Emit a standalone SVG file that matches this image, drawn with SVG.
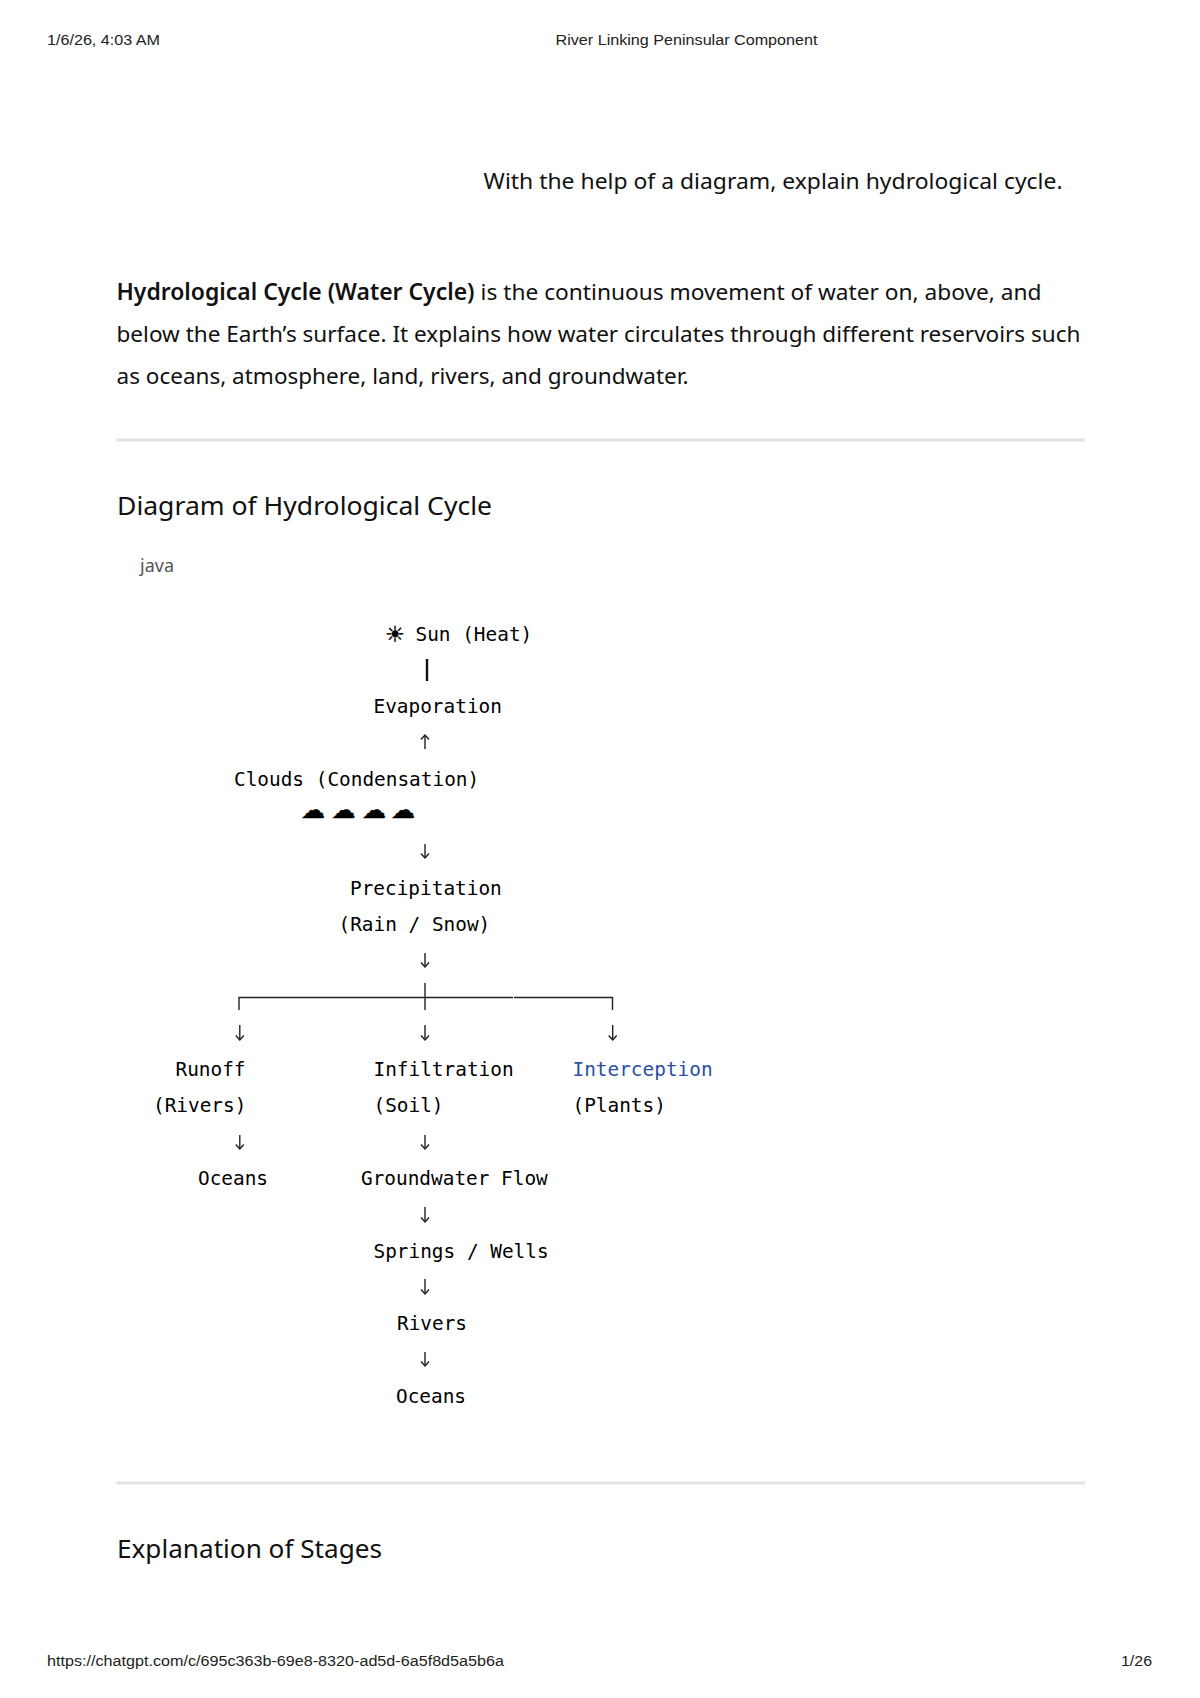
<svg xmlns="http://www.w3.org/2000/svg" width="1200" height="1698" viewBox="0 0 1200 1698">
<style>
text{white-space:pre}
.h{font:15.4px "Liberation Sans",Arial,sans-serif;fill:#222}
.p{font:22.5px "Noto Sans","Open Sans",sans-serif;fill:#111}
.b{font-weight:600}
.t{font:25px "Noto Sans","Open Sans",sans-serif;fill:#111}
.j{font:17.5px "Noto Sans","Open Sans",sans-serif;fill:#555}
.m{font:19.4px "DejaVu Sans Mono","Liberation Mono",monospace;fill:#000}
.g{font:22px "DejaVu Sans",sans-serif;fill:#000;stroke:#000;stroke-width:.4}
.r{stroke:#e3e3e3;stroke-width:3}
.c{fill:none;stroke:#222;stroke-width:1.4}
.a{fill:none;stroke:#222;stroke-width:1.4;marker-end:url(#ah)}
</style>
<defs><marker id="ah" viewBox="0 0 10 10" refX="9" refY="5" markerUnits="userSpaceOnUse" markerWidth="10" markerHeight="10" orient="auto"><path d="M4.5 1 L9 5 L4.5 9" fill="none" stroke="#222" stroke-width="1.4"/></marker></defs>
<rect width="1200" height="1698" fill="#fff"/>
<g id="page-text">
<text class="h" x="47" y="44.5" textLength="113" lengthAdjust="spacingAndGlyphs">1/6/26, 4:03 AM</text>
<text class="h" x="555.5" y="44.5" textLength="262" lengthAdjust="spacingAndGlyphs">River Linking Peninsular Component</text>
<text class="p" x="483.6" y="189" textLength="579" lengthAdjust="spacingAndGlyphs">With the help of a diagram, explain hydrological cycle.</text>
<text class="p b" x="116.5" y="300" textLength="358" lengthAdjust="spacingAndGlyphs">Hydrological Cycle (Water Cycle)</text>
<text class="p" x="480.6" y="300" textLength="561" lengthAdjust="spacingAndGlyphs">is the continuous movement of water on, above, and</text>
<text class="p" x="116.5" y="342" textLength="964" lengthAdjust="spacingAndGlyphs">below the Earth’s surface. It explains how water circulates through different reservoirs such</text>
<text class="p" x="116.5" y="384" textLength="572" lengthAdjust="spacingAndGlyphs">as oceans, atmosphere, land, rivers, and groundwater.</text>
<line class="r" x1="116.5" y1="440" x2="1085" y2="440"/>
<text class="t" x="117" y="515" textLength="375" lengthAdjust="spacingAndGlyphs">Diagram of Hydrological Cycle</text>
<text class="j" x="140" y="572" textLength="34" lengthAdjust="spacingAndGlyphs">java</text>
<line class="r" x1="116.5" y1="1483" x2="1085" y2="1483"/>
<text class="t" x="117" y="1558" textLength="265" lengthAdjust="spacingAndGlyphs">Explanation of Stages</text>
<text class="h" x="47" y="1666" textLength="457" lengthAdjust="spacingAndGlyphs">https://chatgpt.com/c/695c363b-69e8-8320-ad5d-6a5f8d5a5b6a</text>
<text class="h" x="1121" y="1666" textLength="31" lengthAdjust="spacingAndGlyphs">1/26</text>
</g>
<g id="connectors">
<path class="c" d="M239 1010V997.5H513M514 997.5H612.5V1010M425 983V1010"/>
<line x1="427" y1="659" x2="427" y2="681" stroke="#111" stroke-width="2.4"/>
<line class="a" x1="425" y1="749" x2="425" y2="735"/>
<line class="a" x1="425" y1="844" x2="425" y2="858"/>
<line class="a" x1="425" y1="953" x2="425" y2="967"/>
<line class="a" x1="239.8" y1="1025" x2="239.8" y2="1040"/>
<line class="a" x1="425" y1="1025" x2="425" y2="1040"/>
<line class="a" x1="612.7" y1="1025" x2="612.7" y2="1040"/>
<line class="a" x1="239.8" y1="1135" x2="239.8" y2="1149"/>
<line class="a" x1="425" y1="1135" x2="425" y2="1149"/>
<line class="a" x1="425" y1="1207" x2="425" y2="1222"/>
<line class="a" x1="425" y1="1279" x2="425" y2="1294"/>
<line class="a" x1="425" y1="1352" x2="425" y2="1366"/>
</g>
<g id="sun"><text class="g" x="385" y="642">☀</text><text class="m" x="415.5" y="641">Sun (Heat)</text></g>
<g id="evaporation"><text class="m" x="373.5" y="713">Evaporation</text></g>
<g id="clouds"><text class="m" x="234" y="786">Clouds (Condensation)</text><text class="g" x="301 331.5 362 391" y="818" style="font-size:24px">☁☁☁☁</text></g>
<g id="precipitation"><text class="m" x="350" y="895">Precipitation</text><text class="m" x="338.5" y="931">(Rain / Snow)</text></g>
<g id="runoff"><text class="m" x="175.5" y="1076">Runoff</text><text class="m" x="153" y="1112">(Rivers)</text></g>
<g id="oceans-left"><text class="m" x="198" y="1185">Oceans</text></g>
<g id="infiltration"><text class="m" x="373.5" y="1076">Infiltration</text><text class="m" x="373.5" y="1112">(Soil)</text></g>
<g id="interception"><text class="m" x="572.5" y="1076" style="fill:#2a4fa5">Interception</text><text class="m" x="572.5" y="1112">(Plants)</text></g>
<g id="groundwater"><text class="m" x="361" y="1185">Groundwater Flow</text></g>
<g id="springs"><text class="m" x="373.5" y="1258">Springs / Wells</text></g>
<g id="rivers"><text class="m" x="397" y="1330">Rivers</text></g>
<g id="oceans"><text class="m" x="396" y="1403">Oceans</text></g>
</svg>
